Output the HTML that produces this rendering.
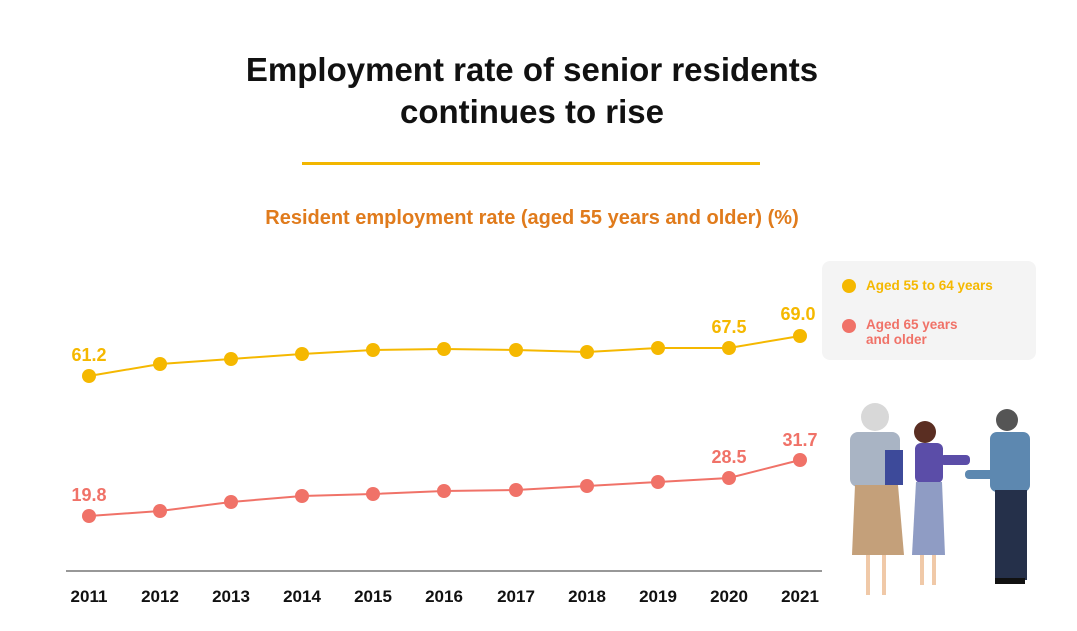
<!DOCTYPE html>
<html><head><style>
body{margin:0;background:#fff;font-family:"Liberation Sans",sans-serif}
</style></head><body>
<svg width="1077" height="626" viewBox="0 0 1077 626" xmlns="http://www.w3.org/2000/svg" font-family="Liberation Sans, sans-serif">
<rect width="1077" height="626" fill="#fff"/>
<text x="532" y="81" text-anchor="middle" font-size="33" font-weight="bold" fill="#111">Employment rate of senior residents</text>
<text x="532" y="123" text-anchor="middle" font-size="33" font-weight="bold" fill="#111">continues to rise</text>
<rect x="302" y="162" width="458" height="3" fill="#f2b600"/>
<text x="532" y="224" text-anchor="middle" font-size="20" font-weight="bold" fill="#e07b1c">Resident employment rate (aged 55 years and older) (%)</text>
<rect x="822" y="261" width="214" height="99" rx="8" fill="#f4f4f4"/>
<circle cx="849" cy="286" r="7" fill="#f5b800"/>
<text x="866" y="290" font-size="13.5" font-weight="bold" fill="#f5b800">Aged 55 to 64 years</text>
<circle cx="849" cy="326" r="7" fill="#f07268"/>
<text x="866" y="329" font-size="13.5" font-weight="bold" fill="#f07268">Aged 65 years</text>
<text x="866" y="344" font-size="13.5" font-weight="bold" fill="#f07268">and older</text>
<line x1="66" y1="571" x2="822" y2="571" stroke="#777" stroke-width="1.5"/>
<g font-size="17" font-weight="bold" fill="#111" text-anchor="middle">
<text x="89" y="602">2011</text><text x="160" y="602">2012</text><text x="231" y="602">2013</text><text x="302" y="602">2014</text><text x="373" y="602">2015</text><text x="444" y="602">2016</text><text x="516" y="602">2017</text><text x="587" y="602">2018</text><text x="658" y="602">2019</text><text x="729" y="602">2020</text><text x="800" y="602">2021</text>
</g>
<polyline fill="none" stroke="#f5b800" stroke-width="2" points="89,376 160,364 231,359 302,354 373,350 444,349 516,350 587,352 658,348 729,348 800,336"/>
<g fill="#f5b800">
<circle cx="89" cy="376" r="7"/><circle cx="160" cy="364" r="7"/><circle cx="231" cy="359" r="7"/><circle cx="302" cy="354" r="7"/><circle cx="373" cy="350" r="7"/><circle cx="444" cy="349" r="7"/><circle cx="516" cy="350" r="7"/><circle cx="587" cy="352" r="7"/><circle cx="658" cy="348" r="7"/><circle cx="729" cy="348" r="7"/><circle cx="800" cy="336" r="7"/>
</g>
<polyline fill="none" stroke="#f07268" stroke-width="2" points="89,516 160,511 231,502 302,496 373,494 444,491 516,490 587,486 658,482 729,478 800,460"/>
<g fill="#f07268">
<circle cx="89" cy="516" r="7"/><circle cx="160" cy="511" r="7"/><circle cx="231" cy="502" r="7"/><circle cx="302" cy="496" r="7"/><circle cx="373" cy="494" r="7"/><circle cx="444" cy="491" r="7"/><circle cx="516" cy="490" r="7"/><circle cx="587" cy="486" r="7"/><circle cx="658" cy="482" r="7"/><circle cx="729" cy="478" r="7"/><circle cx="800" cy="460" r="7"/>
</g>
<g font-size="18" font-weight="bold" text-anchor="middle">
<text x="89" y="361" fill="#f5b800">61.2</text><text x="729" y="333" fill="#f5b800">67.5</text><text x="798" y="320" fill="#f5b800">69.0</text>
<text x="89" y="501" fill="#f07268">19.8</text><text x="729" y="463" fill="#f07268">28.5</text><text x="800" y="446" fill="#f07268">31.7</text>
</g>
<g>
<circle cx="875" cy="417" r="14" fill="#d8d8d8"/>
<rect x="850" y="432" width="50" height="55" rx="8" fill="#a9b4c4"/>
<path d="M855 485 L898 485 L904 555 L852 555 Z" fill="#c4a07a"/>
<rect x="866" y="555" width="4" height="40" fill="#f0c9a8"/><rect x="882" y="555" width="4" height="40" fill="#f0c9a8"/>
<rect x="885" y="450" width="18" height="35" fill="#3d4a9a"/>
<circle cx="925" cy="432" r="11" fill="#5a2e22"/>
<rect x="915" y="443" width="28" height="40" rx="6" fill="#5b4da8"/>
<path d="M916 482 L942 482 L945 555 L912 555 Z" fill="#8f9cc4"/>
<rect x="920" y="555" width="4" height="30" fill="#f0c9a8"/><rect x="932" y="555" width="4" height="30" fill="#f0c9a8"/>
<rect x="940" y="455" width="30" height="10" rx="4" fill="#5b4da8"/>
<rect x="965" y="470" width="30" height="9" rx="4" fill="#5d88b0"/>
<circle cx="1007" cy="420" r="11" fill="#555"/>
<rect x="990" y="432" width="40" height="60" rx="7" fill="#5d88b0"/>
<rect x="995" y="490" width="32" height="90" fill="#25304a"/>
<rect x="995" y="578" width="30" height="6" fill="#111"/>
</g>
</svg>
</body></html>
